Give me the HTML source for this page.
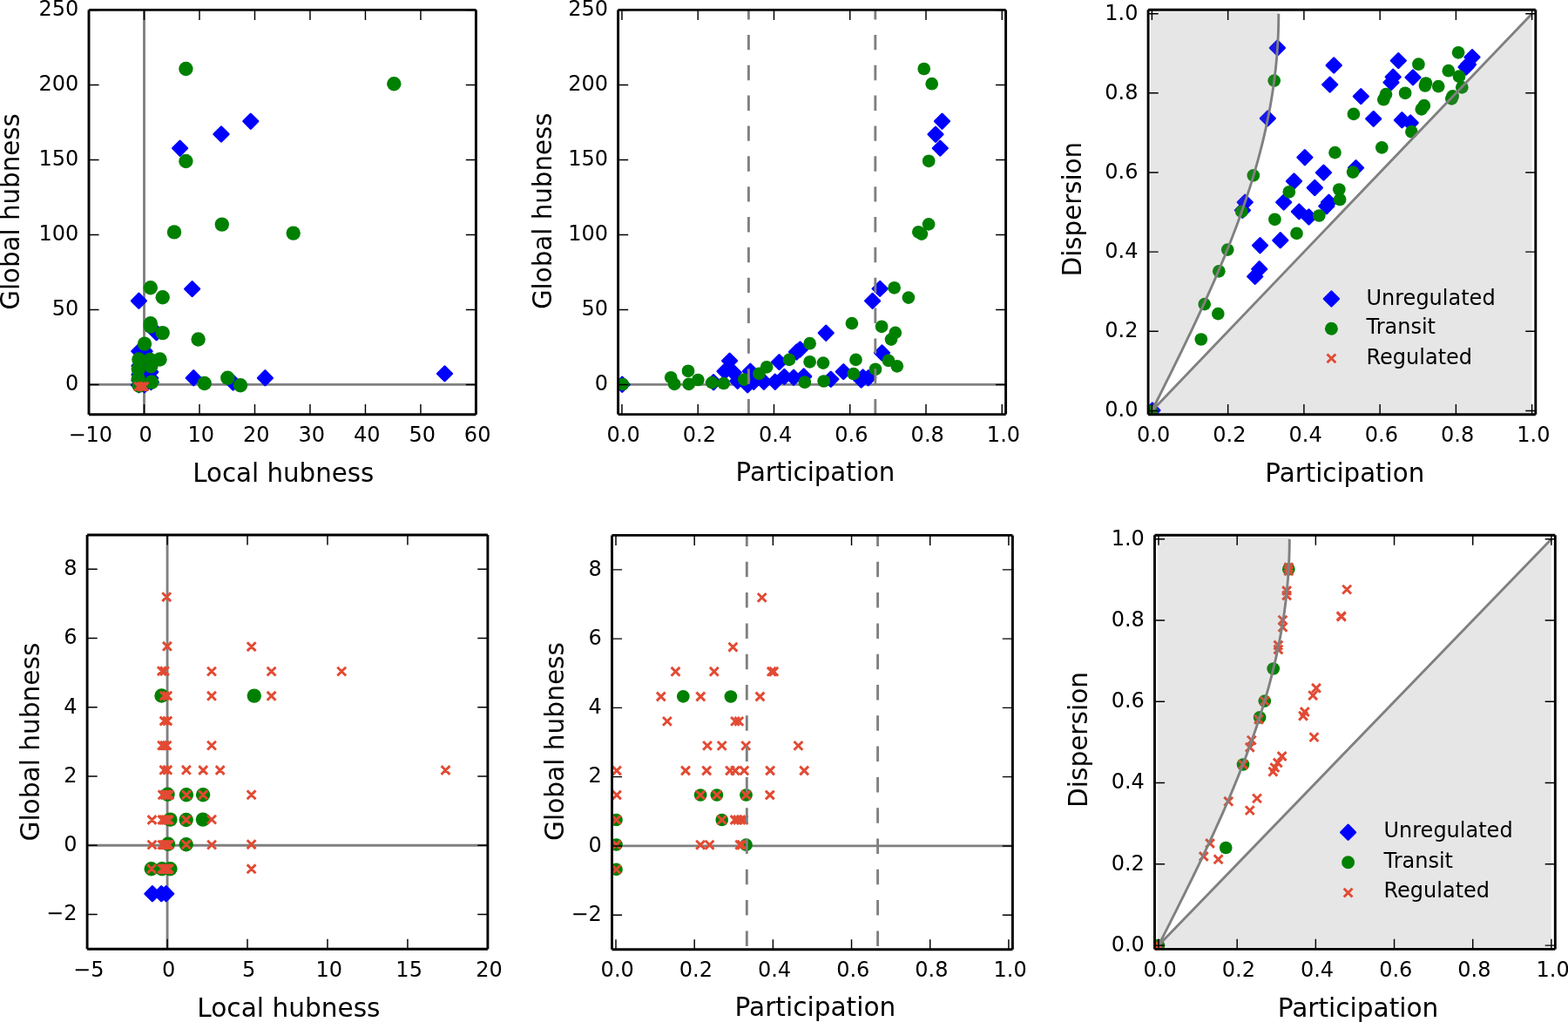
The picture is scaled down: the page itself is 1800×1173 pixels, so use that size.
<!DOCTYPE html>
<html><head><meta charset="utf-8"><title>Hubness, participation and dispersion</title>
<style>html,body{margin:0;padding:0;background:#fff;}body{width:1800px;height:1173px;overflow:hidden;}svg{display:block;}</style>
</head><body>
<svg width="1800" height="1173" viewBox="0 0 1800 1173" font-family="&quot;DejaVu Sans&quot;, &quot;Liberation Sans&quot;, sans-serif" fill="#000"><defs><clipPath id="c1"><rect x="102" y="11.4" width="444.4" height="464.3"/></clipPath><clipPath id="c2"><rect x="709.6" y="11.4" width="445" height="464.2"/></clipPath><clipPath id="c3"><rect x="1318.1" y="11.3" width="444.7" height="464.4"/></clipPath><clipPath id="c4"><rect x="100.1" y="614" width="459.8" height="475.3"/></clipPath><clipPath id="c5"><rect x="702.5" y="614.4" width="459.9" height="475.4"/></clipPath><clipPath id="c6"><rect x="1325.5" y="614.2" width="459.8" height="475.2"/></clipPath></defs><rect width="1800" height="1173" fill="#fff"/><g clip-path="url(#c1)"><path d="M102 441.4H546.4 M165.5 11.4V475.7" stroke="#808080" stroke-width="2.9" fill="none"/><g fill="#0000ff" stroke="#0000ff" stroke-width="2.6" stroke-linejoin="round"><path d="M287.8 130.9L296.1 139.2L287.8 147.5L279.5 139.2Z"/><path d="M254 145.7L262.3 154L254 162.3L245.7 154Z"/><path d="M206.6 161.9L214.9 170.2L206.6 178.5L198.3 170.2Z"/><path d="M220.6 323.3L228.9 331.6L220.6 339.9L212.3 331.6Z"/><path d="M159.4 337L167.7 345.3L159.4 353.6L151.1 345.3Z"/><path d="M179.6 373.6L187.9 381.9L179.6 390.2L171.3 381.9Z"/><path d="M159.8 394.8L168.1 403.1L159.8 411.4L151.5 403.1Z"/><path d="M166.1 394.8L174.4 403.1L166.1 411.4L157.8 403.1Z"/><path d="M160 411.7L168.3 420L160 428.3L151.7 420Z"/><path d="M172.7 418.7L181 427L172.7 435.3L164.4 427Z"/><path d="M160 421.7L168.3 430L160 438.3L151.7 430Z"/><path d="M159.9 428.2L168.2 436.5L159.9 444.8L151.6 436.5Z"/><path d="M172.7 425.6L181 433.9L172.7 442.2L164.4 433.9Z"/><path d="M173.4 430.3L181.7 438.6L173.4 446.9L165.1 438.6Z"/><path d="M159.4 433.6L167.7 441.9L159.4 450.2L151.1 441.9Z"/><path d="M165.9 433.6L174.2 441.9L165.9 450.2L157.6 441.9Z"/><path d="M222.2 425.5L230.5 433.8L222.2 442.1L213.9 433.8Z"/><path d="M267.6 430.8L275.9 439.1L267.6 447.4L259.3 439.1Z"/><path d="M304.4 425.5L312.7 433.8L304.4 442.1L296.1 433.8Z"/><path d="M510.5 420.6L518.8 428.9L510.5 437.2L502.2 428.9Z"/></g><g fill="#008000"><circle cx="213.4" cy="79" r="8.2"/><circle cx="452.3" cy="96.2" r="8.2"/><circle cx="213.4" cy="185" r="8.2"/><circle cx="200" cy="266.4" r="8.2"/><circle cx="254.8" cy="257.6" r="8.2"/><circle cx="336.7" cy="267.6" r="8.2"/><circle cx="172.8" cy="330.2" r="8.2"/><circle cx="186.7" cy="341.3" r="8.2"/><circle cx="172.8" cy="371.2" r="8.2"/><circle cx="172.8" cy="374.6" r="8.2"/><circle cx="186.7" cy="382.1" r="8.2"/><circle cx="227.6" cy="389.5" r="8.2"/><circle cx="166" cy="394.6" r="8.2"/><circle cx="159.4" cy="412.5" r="8.2"/><circle cx="172.4" cy="412.9" r="8.2"/><circle cx="183.5" cy="412.5" r="8.2"/><circle cx="173.4" cy="420.2" r="8.2"/><circle cx="158.7" cy="423.6" r="8.2"/><circle cx="158.7" cy="434.5" r="8.2"/><circle cx="174.1" cy="438.6" r="8.2"/><circle cx="159.8" cy="442.7" r="8.2"/><circle cx="234.7" cy="440" r="8.2"/><circle cx="261.3" cy="433.8" r="8.2"/><circle cx="276" cy="442.2" r="8.2"/></g><path d="M154.1 438.7L163.9 448.5M154.1 448.5L163.9 438.7M157.6 438.7L167.4 448.5M157.6 448.5L167.4 438.7M160.6 438.7L170.4 448.5M160.6 448.5L170.4 438.7" stroke="#e24a33" stroke-width="2.9" fill="none"/></g><path d="M102.01 475.7V464.1M102.01 11.4V23M165.5 475.7V464.1M165.5 11.4V23M228.99 475.7V464.1M228.99 11.4V23M292.48 475.7V464.1M292.48 11.4V23M355.97 475.7V464.1M355.97 11.4V23M419.46 475.7V464.1M419.46 11.4V23M482.95 475.7V464.1M482.95 11.4V23M546.44 475.7V464.1M546.44 11.4V23M102 441.4H113.6M546.4 441.4H534.8M102 355.4H113.6M546.4 355.4H534.8M102 269.4H113.6M546.4 269.4H534.8M102 183.4H113.6M546.4 183.4H534.8M102 97.4H113.6M546.4 97.4H534.8M102 11.4H113.6M546.4 11.4H534.8" stroke="#000" stroke-width="1.45" fill="none"/><path d="M102 11.4H546.4 M102 475.7H546.4 M102 11.4V475.7 M546.4 11.4V475.7" fill="none" stroke="#000" stroke-width="2.9" stroke-linecap="butt"/><g font-size="24"><text x="103.71" y="507" text-anchor="middle">−10</text><text x="167.2" y="507" text-anchor="middle">0</text><text x="230.69" y="507" text-anchor="middle">10</text><text x="294.18" y="507" text-anchor="middle">20</text><text x="357.67" y="507" text-anchor="middle">30</text><text x="421.16" y="507" text-anchor="middle">40</text><text x="484.65" y="507" text-anchor="middle">50</text><text x="548.14" y="507" text-anchor="middle">60</text><text x="90.4" y="448.2" text-anchor="end">0</text><text x="90.4" y="362.2" text-anchor="end">50</text><text x="90.4" y="276.2" text-anchor="end">100</text><text x="90.4" y="190.2" text-anchor="end">150</text><text x="90.4" y="104.2" text-anchor="end">200</text><text x="90.4" y="18.2" text-anchor="end">250</text></g><text x="325.3" y="553" text-anchor="middle" font-size="29.3">Local hubness</text><text transform="translate(22.25 243) rotate(-90)" text-anchor="middle" font-size="29.3">Global hubness</text><g clip-path="url(#c2)"><path d="M709.6 441.4H1154.6" stroke="#808080" stroke-width="2.9" fill="none"/><g fill="#0000ff" stroke="#0000ff" stroke-width="2.6" stroke-linejoin="round"><path d="M714.2 433L722.5 441.3L714.2 449.6L705.9 441.3Z"/><path d="M819.1 430.4L827.4 438.7L819.1 447L810.8 438.7Z"/><path d="M837.6 405.8L845.9 414.1L837.6 422.4L829.3 414.1Z"/><path d="M832 417.9L840.3 426.2L832 434.5L823.7 426.2Z"/><path d="M842.2 419.3L850.5 427.6L842.2 435.9L833.9 427.6Z"/><path d="M846.7 429L855 437.3L846.7 445.6L838.4 437.3Z"/><path d="M861.3 417.9L869.6 426.2L861.3 434.5L853 426.2Z"/><path d="M858.2 433.5L866.5 441.8L858.2 450.1L849.9 441.8Z"/><path d="M865.3 429.9L873.6 438.2L865.3 446.5L857 438.2Z"/><path d="M876.9 429.9L885.2 438.2L876.9 446.5L868.6 438.2Z"/><path d="M889.8 429.9L898.1 438.2L889.8 446.5L881.5 438.2Z"/><path d="M894.5 407.3L902.8 415.6L894.5 423.9L886.2 415.6Z"/><path d="M900.4 424.1L908.7 432.4L900.4 440.7L892.1 432.4Z"/><path d="M914.5 395.7L922.8 404L914.5 412.3L906.2 404Z"/><path d="M918.5 392.7L926.8 401L918.5 409.3L910.2 401Z"/><path d="M911.1 425L919.4 433.3L911.1 441.6L902.8 433.3Z"/><path d="M922.7 423.7L931 432L922.7 440.3L914.4 432Z"/><path d="M948.2 373.9L956.5 382.2L948.2 390.5L939.9 382.2Z"/><path d="M953.8 426.9L962.1 435.2L953.8 443.5L945.5 435.2Z"/><path d="M968.3 418.3L976.6 426.6L968.3 434.9L960 426.6Z"/><path d="M988.7 427.7L997 436L988.7 444.3L980.4 436Z"/><path d="M990.6 424.7L998.9 433L990.6 441.3L982.3 433Z"/><path d="M996.8 425.4L1005.1 433.7L996.8 442L988.5 433.7Z"/><path d="M1012.5 396.7L1020.8 405L1012.5 413.3L1004.2 405Z"/><path d="M1010.2 323.1L1018.5 331.4L1010.2 339.7L1001.9 331.4Z"/><path d="M1001.6 337.1L1009.9 345.4L1001.6 353.7L993.3 345.4Z"/><path d="M1081.5 130.9L1089.8 139.2L1081.5 147.5L1073.2 139.2Z"/><path d="M1074 145.9L1082.3 154.2L1074 162.5L1065.7 154.2Z"/><path d="M1079.3 161.8L1087.6 170.1L1079.3 178.4L1071 170.1Z"/></g><g fill="#008000"><circle cx="714.8" cy="441" r="7.35"/><circle cx="770.2" cy="433.3" r="7.35"/><circle cx="774.2" cy="440.9" r="7.35"/><circle cx="790" cy="425.8" r="7.35"/><circle cx="790.7" cy="440.9" r="7.35"/><circle cx="801.3" cy="436" r="7.35"/><circle cx="817.3" cy="439.1" r="7.35"/><circle cx="830.7" cy="440" r="7.35"/><circle cx="854.2" cy="435.6" r="7.35"/><circle cx="871.4" cy="428.9" r="7.35"/><circle cx="880.1" cy="421.3" r="7.35"/><circle cx="906" cy="412.9" r="7.35"/><circle cx="929.6" cy="394.2" r="7.35"/><circle cx="929.6" cy="415.3" r="7.35"/><circle cx="923.8" cy="438.7" r="7.35"/><circle cx="945" cy="416.6" r="7.35"/><circle cx="945.7" cy="437.5" r="7.35"/><circle cx="977.9" cy="371.1" r="7.35"/><circle cx="982.5" cy="412.9" r="7.35"/><circle cx="979.8" cy="429" r="7.35"/><circle cx="1012.1" cy="374.8" r="7.35"/><circle cx="1027.8" cy="381.9" r="7.35"/><circle cx="1023" cy="389.6" r="7.35"/><circle cx="1020" cy="413.9" r="7.35"/><circle cx="1029.8" cy="420.3" r="7.35"/><circle cx="1005" cy="423.8" r="7.35"/><circle cx="1026.6" cy="330.3" r="7.35"/><circle cx="1042.9" cy="341.6" r="7.35"/><circle cx="1060.7" cy="79" r="7.35"/><circle cx="1069.7" cy="96.2" r="7.35"/><circle cx="1066.2" cy="184.8" r="7.35"/><circle cx="1066.1" cy="257.4" r="7.35"/><circle cx="1054.3" cy="266.3" r="7.35"/><circle cx="1057.9" cy="268.6" r="7.35"/></g><path d="M859.39 5.05V22.45M859.39 39.9V57.3M859.39 74.75V92.15M859.39 109.6V127M859.39 144.45V161.85M859.39 179.3V196.7M859.39 214.15V231.55M859.39 249V266.4M859.39 283.85V301.25M859.39 318.7V336.1M859.39 353.55V370.95M859.39 388.4V405.8M859.39 423.25V440.65M859.39 458.1V475.5" stroke="#808080" stroke-width="2.9" fill="none"/><path d="M1004.83 5.05V22.45M1004.83 39.9V57.3M1004.83 74.75V92.15M1004.83 109.6V127M1004.83 144.45V161.85M1004.83 179.3V196.7M1004.83 214.15V231.55M1004.83 249V266.4M1004.83 283.85V301.25M1004.83 318.7V336.1M1004.83 353.55V370.95M1004.83 388.4V405.8M1004.83 423.25V440.65M1004.83 458.1V475.5" stroke="#808080" stroke-width="2.9" fill="none"/></g><path d="M713.96 475.6V464M713.96 11.4V23M801.22 475.6V464M801.22 11.4V23M888.48 475.6V464M888.48 11.4V23M975.74 475.6V464M975.74 11.4V23M1063 475.6V464M1063 11.4V23M1150.26 475.6V464M1150.26 11.4V23M709.6 441.4H721.2M1154.6 441.4H1143M709.6 355.4H721.2M1154.6 355.4H1143M709.6 269.4H721.2M1154.6 269.4H1143M709.6 183.4H721.2M1154.6 183.4H1143M709.6 97.4H721.2M1154.6 97.4H1143M709.6 11.4H721.2M1154.6 11.4H1143" stroke="#000" stroke-width="1.45" fill="none"/><path d="M709.6 11.4H1154.6 M709.6 475.6H1154.6 M709.6 11.4V475.6 M1154.6 11.4V475.6" fill="none" stroke="#000" stroke-width="2.9" stroke-linecap="butt"/><g font-size="24"><text x="715.66" y="506.9" text-anchor="middle">0.0</text><text x="802.92" y="506.9" text-anchor="middle">0.2</text><text x="890.18" y="506.9" text-anchor="middle">0.4</text><text x="977.44" y="506.9" text-anchor="middle">0.6</text><text x="1064.7" y="506.9" text-anchor="middle">0.8</text><text x="1151.96" y="506.9" text-anchor="middle">1.0</text><text x="698" y="448.2" text-anchor="end">0</text><text x="698" y="362.2" text-anchor="end">50</text><text x="698" y="276.2" text-anchor="end">100</text><text x="698" y="190.2" text-anchor="end">150</text><text x="698" y="104.2" text-anchor="end">200</text><text x="698" y="18.2" text-anchor="end">250</text></g><text x="936" y="551.8" text-anchor="middle" font-size="29.3">Participation</text><text transform="translate(633.4 242.3) rotate(-90)" text-anchor="middle" font-size="29.3">Global hubness</text><g clip-path="url(#c3)"><g fill="#0000ff" stroke="#0000ff" stroke-width="2.6" stroke-linejoin="round"><path d="M1322.9 462.7L1331.2 471L1322.9 479.3L1314.6 471Z"/><path d="M1466.4 46.7L1474.7 55L1466.4 63.3L1458.1 55Z"/><path d="M1455.3 127.6L1463.6 135.9L1455.3 144.2L1447 135.9Z"/><path d="M1531.2 66.7L1539.5 75L1531.2 83.3L1522.9 75Z"/><path d="M1526.7 88.8L1535 97.1L1526.7 105.4L1518.4 97.1Z"/><path d="M1562.3 102.3L1570.6 110.6L1562.3 118.9L1554 110.6Z"/><path d="M1576.7 128.1L1585 136.4L1576.7 144.7L1568.4 136.4Z"/><path d="M1605.3 61.3L1613.6 69.6L1605.3 77.9L1597 69.6Z"/><path d="M1599.2 80L1607.5 88.3L1599.2 96.6L1590.9 88.3Z"/><path d="M1597 86.3L1605.3 94.6L1597 102.9L1588.7 94.6Z"/><path d="M1622 80.6L1630.3 88.9L1622 97.2L1613.7 88.9Z"/><path d="M1609.4 129.5L1617.7 137.8L1609.4 146.1L1601.1 137.8Z"/><path d="M1619.2 132.7L1627.5 141L1619.2 149.3L1610.9 141Z"/><path d="M1690 57.4L1698.3 65.7L1690 74L1681.7 65.7Z"/><path d="M1685.5 65.7L1693.8 74L1685.5 82.3L1677.2 74Z"/><path d="M1683.1 68.7L1691.4 77L1683.1 85.3L1674.8 77Z"/><path d="M1497.9 172.4L1506.2 180.7L1497.9 189L1489.6 180.7Z"/><path d="M1519.4 189.8L1527.7 198.1L1519.4 206.4L1511.1 198.1Z"/><path d="M1556.5 184.3L1564.8 192.6L1556.5 200.9L1548.2 192.6Z"/><path d="M1485.5 199.7L1493.8 208L1485.5 216.3L1477.2 208Z"/><path d="M1509.3 207.2L1517.6 215.5L1509.3 223.8L1501 215.5Z"/><path d="M1525.5 223.8L1533.8 232.1L1525.5 240.4L1517.2 232.1Z"/><path d="M1522.8 228.4L1531.1 236.7L1522.8 245L1514.5 236.7Z"/><path d="M1473.7 223.8L1482 232.1L1473.7 240.4L1465.4 232.1Z"/><path d="M1491.3 234.6L1499.6 242.9L1491.3 251.2L1483 242.9Z"/><path d="M1502.5 240.7L1510.8 249L1502.5 257.3L1494.2 249Z"/><path d="M1469.8 267.5L1478.1 275.8L1469.8 284.1L1461.5 275.8Z"/><path d="M1446.5 273.4L1454.8 281.7L1446.5 290L1438.2 281.7Z"/><path d="M1445.7 300.5L1454 308.8L1445.7 317.1L1437.4 308.8Z"/><path d="M1440.7 309L1449 317.3L1440.7 325.6L1432.4 317.3Z"/><path d="M1429.2 223.8L1437.5 232.1L1429.2 240.4L1420.9 232.1Z"/><path d="M1426.4 233L1434.7 241.3L1426.4 249.6L1418.1 241.3Z"/></g><g fill="#008000"><circle cx="1321.8" cy="472" r="7.35"/><circle cx="1462.7" cy="92.6" r="7.35"/><circle cx="1553.9" cy="130.9" r="7.35"/><circle cx="1591" cy="108.2" r="7.35"/><circle cx="1588.3" cy="114.2" r="7.35"/><circle cx="1613.1" cy="106.8" r="7.35"/><circle cx="1620.4" cy="151.2" r="7.35"/><circle cx="1586.3" cy="169.4" r="7.35"/><circle cx="1532.5" cy="175.1" r="7.35"/><circle cx="1553.1" cy="197.6" r="7.35"/><circle cx="1628.4" cy="73.7" r="7.35"/><circle cx="1636.9" cy="95.5" r="7.35"/><circle cx="1636" cy="98.5" r="7.35"/><circle cx="1651.2" cy="99.1" r="7.35"/><circle cx="1662.8" cy="81.2" r="7.35"/><circle cx="1674.1" cy="60.3" r="7.35"/><circle cx="1675" cy="87.7" r="7.35"/><circle cx="1678.3" cy="100.3" r="7.35"/><circle cx="1667.6" cy="110.4" r="7.35"/><circle cx="1666.4" cy="113.4" r="7.35"/><circle cx="1634.8" cy="121.2" r="7.35"/><circle cx="1631.8" cy="125.3" r="7.35"/><circle cx="1438.8" cy="201.4" r="7.35"/><circle cx="1425.3" cy="242.9" r="7.35"/><circle cx="1409.2" cy="286.6" r="7.35"/><circle cx="1399.3" cy="311.3" r="7.35"/><circle cx="1382.7" cy="349.1" r="7.35"/><circle cx="1398.3" cy="360.1" r="7.35"/><circle cx="1378.8" cy="389.5" r="7.35"/><circle cx="1479.8" cy="220.3" r="7.35"/><circle cx="1537.3" cy="217.5" r="7.35"/><circle cx="1538.1" cy="229" r="7.35"/><circle cx="1514.3" cy="247.5" r="7.35"/><circle cx="1463.4" cy="251.8" r="7.35"/><circle cx="1488.5" cy="267.9" r="7.35"/></g><path d="M1320.9 13.6L1467.82 13.6L1467.82 15.7L1467.79 21.4L1467.7 27.09L1467.56 32.79L1467.37 38.49L1467.12 44.18L1466.81 49.88L1466.45 55.57L1466.03 61.27L1465.55 66.97L1465.02 72.66L1464.44 78.36L1463.8 84.06L1463.11 89.75L1462.36 95.45L1461.56 101.14L1460.7 106.84L1459.79 112.54L1458.83 118.23L1457.81 123.93L1456.75 129.62L1455.63 135.32L1454.46 141.02L1453.24 146.71L1451.97 152.41L1450.65 158.11L1449.28 163.8L1447.86 169.5L1446.39 175.19L1444.87 180.89L1443.31 186.59L1441.7 192.28L1440.04 197.98L1438.34 203.68L1436.6 209.37L1434.81 215.07L1432.98 220.76L1431.1 226.46L1429.18 232.16L1427.22 237.85L1425.23 243.55L1423.19 249.25L1421.11 254.94L1418.99 260.64L1416.84 266.33L1414.65 272.03L1412.43 277.73L1410.17 283.42L1407.87 289.12L1405.55 294.82L1403.19 300.51L1400.8 306.21L1398.38 311.9L1395.93 317.6L1393.45 323.3L1390.95 328.99L1388.42 334.69L1385.86 340.39L1383.28 346.08L1380.68 351.78L1378.05 357.47L1375.4 363.17L1372.73 368.87L1370.04 374.56L1367.34 380.26L1364.61 385.96L1361.87 391.65L1359.12 397.35L1356.35 403.04L1353.56 408.74L1350.77 414.44L1347.96 420.13L1345.15 425.83L1342.32 431.53L1339.49 437.22L1336.65 442.92L1333.81 448.61L1330.96 454.31L1328.11 460.01L1325.26 465.7L1322.4 471.4L1758.65 15.7L1758.65 475.7L1320.9 475.7Z" fill="#808080" fill-opacity="0.2"/><path d="M1322.4 471.4L1325.26 465.7L1328.11 460.01L1330.96 454.31L1333.81 448.61L1336.65 442.92L1339.49 437.22L1342.32 431.53L1345.15 425.83L1347.96 420.13L1350.77 414.44L1353.56 408.74L1356.35 403.04L1359.12 397.35L1361.87 391.65L1364.61 385.96L1367.34 380.26L1370.04 374.56L1372.73 368.87L1375.4 363.17L1378.05 357.47L1380.68 351.78L1383.28 346.08L1385.86 340.39L1388.42 334.69L1390.95 328.99L1393.45 323.3L1395.93 317.6L1398.38 311.9L1400.8 306.21L1403.19 300.51L1405.55 294.82L1407.87 289.12L1410.17 283.42L1412.43 277.73L1414.65 272.03L1416.84 266.33L1418.99 260.64L1421.11 254.94L1423.19 249.25L1425.23 243.55L1427.22 237.85L1429.18 232.16L1431.1 226.46L1432.98 220.76L1434.81 215.07L1436.6 209.37L1438.34 203.68L1440.04 197.98L1441.7 192.28L1443.31 186.59L1444.87 180.89L1446.39 175.19L1447.86 169.5L1449.28 163.8L1450.65 158.11L1451.97 152.41L1453.24 146.71L1454.46 141.02L1455.63 135.32L1456.75 129.62L1457.81 123.93L1458.83 118.23L1459.79 112.54L1460.7 106.84L1461.56 101.14L1462.36 95.45L1463.11 89.75L1463.8 84.06L1464.44 78.36L1465.02 72.66L1465.55 66.97L1466.03 61.27L1466.45 55.57L1466.81 49.88L1467.12 44.18L1467.37 38.49L1467.56 32.79L1467.7 27.09L1467.79 21.4L1467.82 15.7M1322.4 471.4L1758.65 15.7" stroke="#808080" stroke-width="2.9" fill="none" stroke-linejoin="round"/></g><g fill="#0000ff" stroke="#0000ff" stroke-width="2.6" stroke-linejoin="round"><path d="M1528.4 334.7L1536.7 343L1528.4 351.3L1520.1 343Z"/></g><g fill="#008000"><circle cx="1528.4" cy="377.2" r="7.45"/></g><path d="M1523.5 406.5L1533.3 416.3M1523.5 416.3L1533.3 406.5" stroke="#e24a33" stroke-width="2.9" fill="none"/><text x="1568.5" y="349.6" font-size="24">Unregulated</text><text x="1568.5" y="383.3" font-size="24">Transit</text><text x="1568.5" y="417.8" font-size="24">Regulated</text><path d="M1322.4 475.7V464.1M1322.4 11.3V22.9M1409.65 475.7V464.1M1409.65 11.3V22.9M1496.9 475.7V464.1M1496.9 11.3V22.9M1584.15 475.7V464.1M1584.15 11.3V22.9M1671.4 475.7V464.1M1671.4 11.3V22.9M1758.65 475.7V464.1M1758.65 11.3V22.9M1318.1 471.4H1329.7M1762.8 471.4H1751.2M1318.1 380.26H1329.7M1762.8 380.26H1751.2M1318.1 289.12H1329.7M1762.8 289.12H1751.2M1318.1 197.98H1329.7M1762.8 197.98H1751.2M1318.1 106.84H1329.7M1762.8 106.84H1751.2M1318.1 15.7H1329.7M1762.8 15.7H1751.2" stroke="#000" stroke-width="1.45" fill="none"/><path d="M1318.1 11.3H1762.8 M1318.1 475.7H1762.8 M1318.1 11.3V475.7 M1762.8 11.3V475.7" fill="none" stroke="#000" stroke-width="2.9" stroke-linecap="butt"/><g font-size="24"><text x="1324.1" y="507" text-anchor="middle">0.0</text><text x="1411.35" y="507" text-anchor="middle">0.2</text><text x="1498.6" y="507" text-anchor="middle">0.4</text><text x="1585.85" y="507" text-anchor="middle">0.6</text><text x="1673.1" y="507" text-anchor="middle">0.8</text><text x="1760.35" y="507" text-anchor="middle">1.0</text><text x="1306.5" y="478.2" text-anchor="end">0.0</text><text x="1306.5" y="387.06" text-anchor="end">0.2</text><text x="1306.5" y="295.92" text-anchor="end">0.4</text><text x="1306.5" y="204.78" text-anchor="end">0.6</text><text x="1306.5" y="113.64" text-anchor="end">0.8</text><text x="1306.5" y="22.5" text-anchor="end">1.0</text></g><text x="1543.8" y="553" text-anchor="middle" font-size="29.3">Participation</text><text transform="translate(1240.9 240.1) rotate(-90)" text-anchor="middle" font-size="29.3">Dispersion</text><g clip-path="url(#c4)"><path d="M100.1 970.3H559.9 M192.06 614V1089.3" stroke="#808080" stroke-width="2.9" fill="none"/><g fill="#0000ff" stroke="#0000ff" stroke-width="2.6" stroke-linejoin="round"><path d="M174.9 1017.5L183.2 1025.8L174.9 1034.1L166.6 1025.8Z"/><path d="M185.2 1017.5L193.5 1025.8L185.2 1034.1L176.9 1025.8Z"/><path d="M190.7 1017.5L199 1025.8L190.7 1034.1L182.4 1025.8Z"/></g><g fill="#008000"><circle cx="185.5" cy="798.5" r="8.2"/><circle cx="291.8" cy="798.6" r="8.2"/><circle cx="192.5" cy="911.8" r="8.2"/><circle cx="213.9" cy="912.3" r="8.2"/><circle cx="233.1" cy="912.3" r="8.2"/><circle cx="195.4" cy="940.6" r="8.2"/><circle cx="213.7" cy="941" r="8.2"/><circle cx="232.9" cy="940.6" r="8.2"/><circle cx="192.9" cy="968.8" r="8.2"/><circle cx="213.7" cy="969.3" r="8.2"/><circle cx="173.7" cy="997.2" r="8.2"/><circle cx="186" cy="997.2" r="8.2"/><circle cx="195.4" cy="997.2" r="8.2"/></g><path d="M186.3 680.3L196.1 690.1M186.3 690.1L196.1 680.3M187 736.9L196.8 746.7M187 746.7L196.8 736.9M283.8 737.3L293.6 747.1M283.8 747.1L293.6 737.3M180.9 765.3L190.7 775.1M180.9 775.1L190.7 765.3M184.1 765.3L193.9 775.1M184.1 775.1L193.9 765.3M238.1 765.7L247.9 775.5M238.1 775.5L247.9 765.7M306.7 765.7L316.5 775.5M306.7 775.5L316.5 765.7M387.3 765.7L397.1 775.5M387.3 775.5L397.1 765.7M183.8 793.8L193.6 803.6M183.8 803.6L193.6 793.8M187.4 793.8L197.2 803.6M187.4 803.6L197.2 793.8M238.1 793.9L247.9 803.7M238.1 803.7L247.9 793.9M306.7 793.9L316.5 803.7M306.7 803.7L316.5 793.9M183.7 822.6L193.5 832.4M183.7 832.4L193.5 822.6M187.4 822.6L197.2 832.4M187.4 832.4L197.2 822.6M181.1 850.7L190.9 860.5M181.1 860.5L190.9 850.7M184.1 850.7L193.9 860.5M184.1 860.5L193.9 850.7M186.7 850.7L196.5 860.5M186.7 860.5L196.5 850.7M238.1 850.7L247.9 860.5M238.1 860.5L247.9 850.7M183.5 878.9L193.3 888.7M183.5 888.7L193.3 878.9M187.4 878.9L197.2 888.7M187.4 888.7L197.2 878.9M209 878.9L218.8 888.7M209 888.7L218.8 878.9M228.3 879.1L238.1 888.9M228.3 888.9L238.1 879.1M247.8 879.1L257.6 888.9M247.8 888.9L257.6 879.1M506.6 879.1L516.4 888.9M506.6 888.9L516.4 879.1M181.7 907.4L191.5 917.2M181.7 917.2L191.5 907.4M184.3 907.4L194.1 917.2M184.3 917.2L194.1 907.4M186.9 907.4L196.7 917.2M186.9 917.2L196.7 907.4M189.4 907.4L199.2 917.2M189.4 917.2L199.2 907.4M209 907.4L218.8 917.2M209 917.2L218.8 907.4M228.2 907.4L238 917.2M228.2 917.2L238 907.4M283.7 907.4L293.5 917.2M283.7 917.2L293.5 907.4M169.6 936.1L179.4 945.9M169.6 945.9L179.4 936.1M181.4 936.1L191.2 945.9M181.4 945.9L191.2 936.1M183.4 936.1L193.2 945.9M183.4 945.9L193.2 936.1M185.4 936.1L195.2 945.9M185.4 945.9L195.2 936.1M187.4 936.1L197.2 945.9M187.4 945.9L197.2 936.1M189.1 936.1L198.9 945.9M189.1 945.9L198.9 936.1M208.8 936.1L218.6 945.9M208.8 945.9L218.6 936.1M238.2 935.7L248 945.5M238.2 945.5L248 935.7M169.6 964.7L179.4 974.5M169.6 974.5L179.4 964.7M181.4 964.7L191.2 974.5M181.4 974.5L191.2 964.7M183.4 964.7L193.2 974.5M183.4 974.5L193.2 964.7M185.4 964.7L195.2 974.5M185.4 974.5L195.2 964.7M187.4 964.7L197.2 974.5M187.4 974.5L197.2 964.7M189.1 964.7L198.9 974.5M189.1 974.5L198.9 964.7M208.8 964.4L218.6 974.2M208.8 974.2L218.6 964.4M238.2 964.7L248 974.5M238.2 974.5L248 964.7M283.7 964.3L293.5 974.1M283.7 974.1L293.5 964.3M169.1 992.3L178.9 1002.1M169.1 1002.1L178.9 992.3M181.4 992.3L191.2 1002.1M181.4 1002.1L191.2 992.3M183.4 992.3L193.2 1002.1M183.4 1002.1L193.2 992.3M185.4 992.3L195.2 1002.1M185.4 1002.1L195.2 992.3M187.4 992.3L197.2 1002.1M187.4 1002.1L197.2 992.3M189.1 992.3L198.9 1002.1M189.1 1002.1L198.9 992.3M283.7 992.4L293.5 1002.2M283.7 1002.2L293.5 992.4" stroke="#e24a33" stroke-width="2.9" fill="none"/></g><path d="M100.1 1089.3V1077.7M100.1 614V625.6M192.06 1089.3V1077.7M192.06 614V625.6M284.02 1089.3V1077.7M284.02 614V625.6M375.98 1089.3V1077.7M375.98 614V625.6M467.94 1089.3V1077.7M467.94 614V625.6M559.9 1089.3V1077.7M559.9 614V625.6M100.1 1049.56H111.7M559.9 1049.56H548.3M100.1 970.3H111.7M559.9 970.3H548.3M100.1 891.04H111.7M559.9 891.04H548.3M100.1 811.78H111.7M559.9 811.78H548.3M100.1 732.52H111.7M559.9 732.52H548.3M100.1 653.26H111.7M559.9 653.26H548.3" stroke="#000" stroke-width="1.45" fill="none"/><path d="M100.1 614H559.9 M100.1 1089.3H559.9 M100.1 614V1089.3 M559.9 614V1089.3" fill="none" stroke="#000" stroke-width="2.9" stroke-linecap="butt"/><g font-size="24"><text x="101.8" y="1120.6" text-anchor="middle">−5</text><text x="193.76" y="1120.6" text-anchor="middle">0</text><text x="285.72" y="1120.6" text-anchor="middle">5</text><text x="377.68" y="1120.6" text-anchor="middle">10</text><text x="469.64" y="1120.6" text-anchor="middle">15</text><text x="561.6" y="1120.6" text-anchor="middle">20</text><text x="88.5" y="1056.36" text-anchor="end">−2</text><text x="88.5" y="977.1" text-anchor="end">0</text><text x="88.5" y="897.84" text-anchor="end">2</text><text x="88.5" y="818.58" text-anchor="end">4</text><text x="88.5" y="739.32" text-anchor="end">6</text><text x="88.5" y="660.06" text-anchor="end">8</text></g><text x="331.4" y="1167.3" text-anchor="middle" font-size="29.6">Local hubness</text><text transform="translate(45.4 851.6) rotate(-90)" text-anchor="middle" font-size="29.6">Global hubness</text><g clip-path="url(#c5)"><path d="M702.5 970.9H1162.4" stroke="#808080" stroke-width="2.9" fill="none"/><g fill="#008000"><circle cx="784.3" cy="799.4" r="7.35"/><circle cx="838.9" cy="799.5" r="7.35"/><circle cx="804.1" cy="912.5" r="7.35"/><circle cx="822.9" cy="912.5" r="7.35"/><circle cx="856.5" cy="912.5" r="7.35"/><circle cx="707.5" cy="941" r="7.35"/><circle cx="828.7" cy="941" r="7.35"/><circle cx="707.5" cy="969.5" r="7.35"/><circle cx="856.5" cy="969.7" r="7.35"/><circle cx="707.5" cy="997.9" r="7.35"/></g><path d="M869.8 681L879.6 690.8M869.8 690.8L879.6 681M836.5 737.8L846.3 747.6M836.5 747.6L846.3 737.8M770.6 765.9L780.4 775.7M770.6 775.7L780.4 765.9M814.9 765.9L824.7 775.7M814.9 775.7L824.7 765.9M880.9 765.9L890.7 775.7M880.9 775.7L890.7 765.9M883.4 765.9L893.2 775.7M883.4 775.7L893.2 765.9M753.9 794.6L763.7 804.4M753.9 804.4L763.7 794.6M799.4 794.6L809.2 804.4M799.4 804.4L809.2 794.6M867.6 794.6L877.4 804.4M867.6 804.4L877.4 794.6M761 823L770.8 832.8M761 832.8L770.8 823M839.1 823L848.9 832.8M839.1 832.8L848.9 823M843.4 823L853.2 832.8M843.4 832.8L853.2 823M807.1 851L816.9 860.8M807.1 860.8L816.9 851M823.8 851L833.6 860.8M823.8 860.8L833.6 851M851.3 851L861.1 860.8M851.3 860.8L861.1 851M911.5 851L921.3 860.8M911.5 860.8L921.3 851M703.1 879.6L712.9 889.4M703.1 889.4L712.9 879.6M782.1 879.6L791.9 889.4M782.1 889.4L791.9 879.6M806.3 879.6L816.1 889.4M806.3 889.4L816.1 879.6M833.1 879.6L842.9 889.4M833.1 889.4L842.9 879.6M839.1 879.6L848.9 889.4M839.1 889.4L848.9 879.6M849.4 879.6L859.2 889.4M849.4 889.4L859.2 879.6M879.2 879.6L889 889.4M879.2 889.4L889 879.6M918.3 879.6L928.1 889.4M918.3 889.4L928.1 879.6M703.1 907.6L712.9 917.4M703.1 917.4L712.9 907.6M799.2 907.6L809 917.4M799.2 917.4L809 907.6M818 907.6L827.8 917.4M818 917.4L827.8 907.6M851.6 907.6L861.4 917.4M851.6 917.4L861.4 907.6M878.9 907.6L888.7 917.4M878.9 917.4L888.7 907.6M702.6 936.1L712.4 945.9M702.6 945.9L712.4 936.1M823.8 936.1L833.6 945.9M823.8 945.9L833.6 936.1M838.6 936.1L848.4 945.9M838.6 945.9L848.4 936.1M842.1 936.1L851.9 945.9M842.1 945.9L851.9 936.1M845.6 936.1L855.4 945.9M845.6 945.9L855.4 936.1M848.6 936.1L858.4 945.9M848.6 945.9L858.4 936.1M702.6 964.6L712.4 974.4M702.6 974.4L712.4 964.6M799.2 964.8L809 974.6M799.2 974.6L809 964.8M809.6 964.8L819.4 974.6M809.6 974.6L819.4 964.8M844.4 964.8L854.2 974.6M844.4 974.6L854.2 964.8M846.6 964.8L856.4 974.6M846.6 974.6L856.4 964.8M702.6 993L712.4 1002.8M702.6 1002.8L712.4 993" stroke="#e24a33" stroke-width="2.9" fill="none"/><path d="M857.3 609.5V627M857.3 644.8V662.3M857.3 680.1V697.6M857.3 715.4V732.9M857.3 750.7V768.2M857.3 786V803.5M857.3 821.3V838.8M857.3 856.6V874.1M857.3 891.9V909.4M857.3 927.2V944.7M857.3 962.5V980M857.3 997.8V1015.3M857.3 1033.1V1050.6M857.3 1068.4V1085.9" stroke="#808080" stroke-width="2.9" fill="none"/><path d="M1007.6 609.5V627M1007.6 644.8V662.3M1007.6 680.1V697.6M1007.6 715.4V732.9M1007.6 750.7V768.2M1007.6 786V803.5M1007.6 821.3V838.8M1007.6 856.6V874.1M1007.6 891.9V909.4M1007.6 927.2V944.7M1007.6 962.5V980M1007.6 997.8V1015.3M1007.6 1033.1V1050.6M1007.6 1068.4V1085.9" stroke="#808080" stroke-width="2.9" fill="none"/></g><path d="M707 1089.8V1078.2M707 614.4V626M797.18 1089.8V1078.2M797.18 614.4V626M887.36 1089.8V1078.2M887.36 614.4V626M977.54 1089.8V1078.2M977.54 614.4V626M1067.72 1089.8V1078.2M1067.72 614.4V626M1157.9 1089.8V1078.2M1157.9 614.4V626M702.5 1050.16H714.1M1162.4 1050.16H1150.8M702.5 970.9H714.1M1162.4 970.9H1150.8M702.5 891.64H714.1M1162.4 891.64H1150.8M702.5 812.38H714.1M1162.4 812.38H1150.8M702.5 733.12H714.1M1162.4 733.12H1150.8M702.5 653.86H714.1M1162.4 653.86H1150.8" stroke="#000" stroke-width="1.45" fill="none"/><path d="M702.5 614.4H1162.4 M702.5 1089.8H1162.4 M702.5 614.4V1089.8 M1162.4 614.4V1089.8" fill="none" stroke="#000" stroke-width="2.9" stroke-linecap="butt"/><g font-size="24"><text x="708.7" y="1121.1" text-anchor="middle">0.0</text><text x="798.88" y="1121.1" text-anchor="middle">0.2</text><text x="889.06" y="1121.1" text-anchor="middle">0.4</text><text x="979.24" y="1121.1" text-anchor="middle">0.6</text><text x="1069.42" y="1121.1" text-anchor="middle">0.8</text><text x="1159.6" y="1121.1" text-anchor="middle">1.0</text><text x="690.9" y="1056.96" text-anchor="end">−2</text><text x="690.9" y="977.7" text-anchor="end">0</text><text x="690.9" y="898.44" text-anchor="end">2</text><text x="690.9" y="819.18" text-anchor="end">4</text><text x="690.9" y="739.92" text-anchor="end">6</text><text x="690.9" y="660.66" text-anchor="end">8</text></g><text x="935.9" y="1166.1" text-anchor="middle" font-size="29.6">Participation</text><text transform="translate(647 851) rotate(-90)" text-anchor="middle" font-size="29.6">Global hubness</text><g clip-path="url(#c6)"><g fill="#008000"><circle cx="1479.3" cy="653.3" r="7.35"/><circle cx="1461.7" cy="767.5" r="7.35"/><circle cx="1451.8" cy="804.6" r="7.35"/><circle cx="1446.1" cy="823.4" r="7.35"/><circle cx="1427" cy="877.5" r="7.35"/><circle cx="1407.2" cy="973" r="7.35"/><circle cx="1330" cy="1085.1" r="7.35"/></g><path d="M1474.4 646.4L1484.2 656.2M1474.4 656.2L1484.2 646.4M1474.4 650.4L1484.2 660.2M1474.4 660.2L1484.2 650.4M1472.2 673.1L1482 682.9M1472.2 682.9L1482 673.1M1472.2 678.6L1482 688.4M1472.2 688.4L1482 678.6M1541.3 671.7L1551.1 681.5M1541.3 681.5L1551.1 671.7M1534.8 702.3L1544.6 712.1M1534.8 712.1L1544.6 702.3M1535 702.9L1544.8 712.7M1535 712.7L1544.8 702.9M1467.6 706.7L1477.4 716.5M1467.6 716.5L1477.4 706.7M1467.6 714.9L1477.4 724.7M1467.6 724.7L1477.4 714.9M1462.5 735.6L1472.3 745.4M1462.5 745.4L1472.3 735.6M1462.5 740.6L1472.3 750.4M1462.5 750.4L1472.3 740.6M1506.1 784.9L1515.9 794.7M1506.1 794.7L1515.9 784.9M1502.3 793.3L1512.1 803.1M1502.3 803.1L1512.1 793.3M1492.9 812.1L1502.7 821.9M1492.9 821.9L1502.7 812.1M1491.1 816.8L1500.9 826.6M1491.1 826.6L1500.9 816.8M1503.6 841.2L1513.4 851M1503.6 851L1513.4 841.2M1446.9 799.7L1456.7 809.5M1446.9 809.5L1456.7 799.7M1440.1 820.8L1449.9 830.6M1440.1 830.6L1449.9 820.8M1431.9 844.7L1441.7 854.5M1431.9 854.5L1441.7 844.7M1429.9 852.9L1439.7 862.7M1429.9 862.7L1439.7 852.9M1422.1 872.6L1431.9 882.4M1422.1 882.4L1431.9 872.6M1466.7 863.1L1476.5 872.9M1466.7 872.9L1476.5 863.1M1461.9 870.6L1471.7 880.4M1461.9 880.4L1471.7 870.6M1458.5 876.1L1468.3 885.9M1458.5 885.9L1468.3 876.1M1456.5 880.8L1466.3 890.6M1456.5 890.6L1466.3 880.8M1438.1 911.5L1447.9 921.3M1438.1 921.3L1447.9 911.5M1405.3 914.9L1415.1 924.7M1405.3 924.7L1415.1 914.9M1429.9 925.2L1439.7 935M1429.9 935L1439.7 925.2M1384.1 963.1L1393.9 972.9M1384.1 972.9L1393.9 963.1M1376.9 978.1L1386.7 987.9M1376.9 987.9L1386.7 978.1M1393.7 981.4L1403.5 991.2M1393.7 991.2L1403.5 981.4M1325.1 1080.2L1334.9 1090M1325.1 1090L1334.9 1080.2" stroke="#e24a33" stroke-width="2.9" fill="none"/><path d="M1328.6 617L1480.3 617L1480.3 618.75L1480.27 624.58L1480.18 630.41L1480.04 636.24L1479.84 642.07L1479.58 647.9L1479.26 653.73L1478.88 659.56L1478.45 665.38L1477.96 671.21L1477.41 677.04L1476.81 682.87L1476.15 688.7L1475.43 694.53L1474.66 700.36L1473.83 706.19L1472.94 712.02L1472 717.85L1471.01 723.68L1469.96 729.51L1468.86 735.34L1467.7 741.17L1466.49 747L1465.23 752.83L1463.92 758.65L1462.55 764.48L1461.14 770.31L1459.67 776.14L1458.15 781.97L1456.59 787.8L1454.97 793.63L1453.31 799.46L1451.6 805.29L1449.84 811.12L1448.03 816.95L1446.18 822.78L1444.29 828.61L1442.35 834.44L1440.37 840.27L1438.34 846.1L1436.28 851.92L1434.17 857.75L1432.02 863.58L1429.84 869.41L1427.61 875.24L1425.35 881.07L1423.05 886.9L1420.71 892.73L1418.34 898.56L1415.94 904.39L1413.5 910.22L1411.03 916.05L1408.53 921.88L1406 927.71L1403.44 933.54L1400.85 939.37L1398.23 945.19L1395.59 951.02L1392.92 956.85L1390.23 962.68L1387.52 968.51L1384.78 974.34L1382.02 980.17L1379.24 986L1376.45 991.83L1373.63 997.66L1370.8 1003.49L1367.95 1009.32L1365.09 1015.15L1362.21 1020.98L1359.32 1026.81L1356.42 1032.64L1353.51 1038.46L1350.59 1044.29L1347.67 1050.12L1344.73 1055.95L1341.79 1061.78L1338.85 1067.61L1335.9 1073.44L1332.95 1079.27L1330 1085.1L1780.9 618.75L1780.9 1089.4L1328.6 1089.4Z" fill="#808080" fill-opacity="0.2"/><path d="M1330 1085.1L1332.95 1079.27L1335.9 1073.44L1338.85 1067.61L1341.79 1061.78L1344.73 1055.95L1347.67 1050.12L1350.59 1044.29L1353.51 1038.46L1356.42 1032.64L1359.32 1026.81L1362.21 1020.98L1365.09 1015.15L1367.95 1009.32L1370.8 1003.49L1373.63 997.66L1376.45 991.83L1379.24 986L1382.02 980.17L1384.78 974.34L1387.52 968.51L1390.23 962.68L1392.92 956.85L1395.59 951.02L1398.23 945.19L1400.85 939.37L1403.44 933.54L1406 927.71L1408.53 921.88L1411.03 916.05L1413.5 910.22L1415.94 904.39L1418.34 898.56L1420.71 892.73L1423.05 886.9L1425.35 881.07L1427.61 875.24L1429.84 869.41L1432.02 863.58L1434.17 857.75L1436.28 851.92L1438.34 846.1L1440.37 840.27L1442.35 834.44L1444.29 828.61L1446.18 822.78L1448.03 816.95L1449.84 811.12L1451.6 805.29L1453.31 799.46L1454.97 793.63L1456.59 787.8L1458.15 781.97L1459.67 776.14L1461.14 770.31L1462.55 764.48L1463.92 758.65L1465.23 752.83L1466.49 747L1467.7 741.17L1468.86 735.34L1469.96 729.51L1471.01 723.68L1472 717.85L1472.94 712.02L1473.83 706.19L1474.66 700.36L1475.43 694.53L1476.15 688.7L1476.81 682.87L1477.41 677.04L1477.96 671.21L1478.45 665.38L1478.88 659.56L1479.26 653.73L1479.58 647.9L1479.84 642.07L1480.04 636.24L1480.18 630.41L1480.27 624.58L1480.3 618.75M1330 1085.1L1780.9 618.75" stroke="#808080" stroke-width="2.9" fill="none" stroke-linejoin="round"/></g><g fill="#0000ff" stroke="#0000ff" stroke-width="2.6" stroke-linejoin="round"><path d="M1547.6 947L1555.9 955.3L1547.6 963.6L1539.3 955.3Z"/></g><g fill="#008000"><circle cx="1547.6" cy="989.8" r="7.45"/></g><path d="M1542.7 1019.7L1552.5 1029.5M1542.7 1029.5L1552.5 1019.7" stroke="#e24a33" stroke-width="2.9" fill="none"/><text x="1588.5" y="961.3" font-size="24">Unregulated</text><text x="1588.5" y="995.8" font-size="24">Transit</text><text x="1588.5" y="1030.3" font-size="24">Regulated</text><path d="M1330 1089.4V1077.8M1330 614.2V625.8M1420.18 1089.4V1077.8M1420.18 614.2V625.8M1510.36 1089.4V1077.8M1510.36 614.2V625.8M1600.54 1089.4V1077.8M1600.54 614.2V625.8M1690.72 1089.4V1077.8M1690.72 614.2V625.8M1780.9 1089.4V1077.8M1780.9 614.2V625.8M1325.5 1085.1H1337.1M1785.3 1085.1H1773.7M1325.5 991.83H1337.1M1785.3 991.83H1773.7M1325.5 898.56H1337.1M1785.3 898.56H1773.7M1325.5 805.29H1337.1M1785.3 805.29H1773.7M1325.5 712.02H1337.1M1785.3 712.02H1773.7M1325.5 618.75H1337.1M1785.3 618.75H1773.7" stroke="#000" stroke-width="1.45" fill="none"/><path d="M1325.5 614.2H1785.3 M1325.5 1089.4H1785.3 M1325.5 614.2V1089.4 M1785.3 614.2V1089.4" fill="none" stroke="#000" stroke-width="2.9" stroke-linecap="butt"/><g font-size="24"><text x="1331.7" y="1120.7" text-anchor="middle">0.0</text><text x="1421.88" y="1120.7" text-anchor="middle">0.2</text><text x="1512.06" y="1120.7" text-anchor="middle">0.4</text><text x="1602.24" y="1120.7" text-anchor="middle">0.6</text><text x="1692.42" y="1120.7" text-anchor="middle">0.8</text><text x="1782.6" y="1120.7" text-anchor="middle">1.0</text><text x="1313.9" y="1091.9" text-anchor="end">0.0</text><text x="1313.9" y="998.63" text-anchor="end">0.2</text><text x="1313.9" y="905.36" text-anchor="end">0.4</text><text x="1313.9" y="812.09" text-anchor="end">0.6</text><text x="1313.9" y="718.82" text-anchor="end">0.8</text><text x="1313.9" y="625.55" text-anchor="end">1.0</text></g><text x="1559" y="1166.7" text-anchor="middle" font-size="29.6">Participation</text><text transform="translate(1248.3 849) rotate(-90)" text-anchor="middle" font-size="29.6">Dispersion</text></svg>
</body></html>
